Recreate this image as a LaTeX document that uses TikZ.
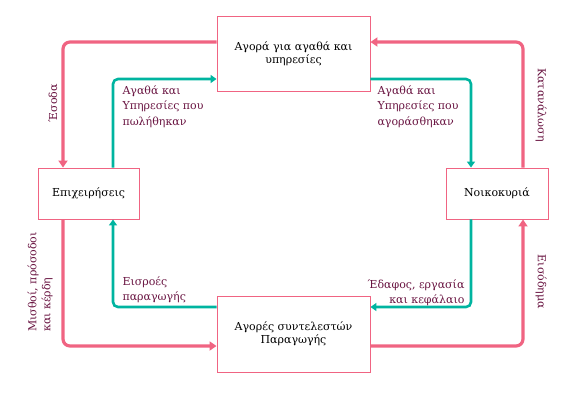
\documentclass[tikz,border=0pt]{standalone}
\usepackage{fontspec}
\setmainfont{DejaVu Serif}
\usepackage{tikz}
\usetikzlibrary{arrows.meta}

\definecolor{flowpink}{RGB}{240,100,130}
\definecolor{flowteal}{RGB}{0,180,160}
\definecolor{labmaroon}{RGB}{105,20,65}

\begin{document}
\begin{tikzpicture}[x=1pt,y=-1pt,
    box/.style={draw=flowpink,line width=.9pt,fill=white,align=center,
      font=\fontsize{11}{13}\selectfont},
    money/.style={draw=flowpink,line width=3.2pt,rounded corners=7pt,
      -{Triangle[length=7pt,width=9pt]}},
    goods/.style={draw=flowteal,line width=2.6pt,rounded corners=5pt,
      -{Triangle[length=6pt,width=8pt]}},
    lab/.style={text=labmaroon,font=\fontsize{11}{15.5}\selectfont}]
    \useasboundingbox (0,0) rectangle (578,400);
    % the four boxes
    \node[box,minimum width=153pt,minimum height=75pt] (mkt) at (293.5,53.5) {Αγορά για αγαθά και\\υπηρεσίες};
    \node[box,minimum width=101pt,minimum height=51pt] (firm) at (88.5,193.5) {Επιχειρήσεις};
    \node[box,minimum width=102pt,minimum height=51pt] (home) at (497,193.5) {Νοικοκυριά};
    \node[box,minimum width=153pt,minimum height=76pt] (fact) at (293.5,334) {Αγορές συντελεστών\\Παραγωγής};
    % money flows (outer loop)
    \draw[money] ([yshift=11.5pt]mkt.west) -| ([xshift=-25.5pt]firm.north);
    \draw[money] ([xshift=26pt]home.north) |- ([yshift=11.5pt]mkt.east);
    \draw[money] ([xshift=-25.5pt]firm.south) |- ([yshift=-12pt]fact.west);
    \draw[money] ([yshift=-12pt]fact.east) -| ([xshift=26pt]home.south);
    % real flows (inner loop)
    \draw[goods] ([xshift=24.5pt]firm.north) |- ([yshift=-25.5pt]mkt.west);
    \draw[goods] ([yshift=-25.5pt]mkt.east) -| ([xshift=-26pt]home.north);
    \draw[goods] ([xshift=-26pt]home.south) |- ([yshift=27pt]fact.east);
    \draw[goods] ([yshift=27pt]fact.west) -| ([xshift=24.5pt]firm.south);
    % labels
    \node[lab,anchor=north west,align=left] (sold) at (119,82) {Αγαθά και\\Υπηρεσίες που\\πωλήθηκαν};
    \node[lab,anchor=north west,align=left] (bought) at (374,82) {Αγαθά και\\Υπηρεσίες που\\αγοράσθηκαν};
    \node[lab,anchor=north west,align=left] (inputs) at (119,273) {Εισροές\\παραγωγής};
    \node[lab,anchor=north east,align=right] (land) at (468,276) {Έδαφος, εργασία\\και κεφάλαιο};
    \node[lab,rotate=90] (rev) at (53,103) {Έσοδα};
    \node[lab,rotate=-90] (cons) at (541,105) {Κατανάλωση};
    \node[lab,rotate=-90] (inc) at (541,282) {Εισόδημα};
    \node[lab,rotate=90,align=left,font=\fontsize{11}{14}\selectfont] (wage) at (40,282) {Μισθοί, πρόσοδοι\\και κέρδη};
  \end{tikzpicture}
\end{document}
